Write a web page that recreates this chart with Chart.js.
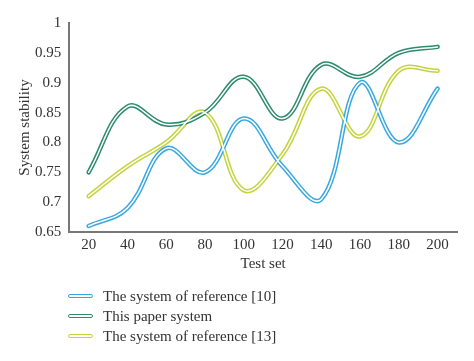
<!DOCTYPE html>
<html>
<head>
<meta charset="utf-8">
<script src="https://cdn.jsdelivr.net/npm/chart.js@4"></script>
<style>
  body { margin: 0; background: #fff; }
  #wrap { position: relative; width: 474px; height: 361px; }
  #legend { position: absolute; left: 68px; top: 286px; font-family: "Liberation Serif", serif; font-size: 15px; color: #333; }
  .item { height: 20px; line-height: 20px; display: flex; align-items: center; }
  .swatch { width: 23px; height: 2px; border-radius: 3px; margin-right: 10px; background: #fff; }
</style>
</head>
<body>
<div id="wrap">
  <canvas id="grafico" width="474" height="361"></canvas>
  <div id="legend"></div>
</div>
<script>
const testSet = ['20', '40', '60', '80', '100', '120', '140', '160', '180', '200'];
const ref10 = [0.66, 0.69, 0.79, 0.75, 0.84, 0.76, 0.705, 0.90, 0.80, 0.89];
const paper = [0.75, 0.86, 0.83, 0.85, 0.91, 0.84, 0.93, 0.91, 0.95, 0.96];
const ref13 = [0.71, 0.76, 0.80, 0.85, 0.72, 0.78, 0.89, 0.81, 0.92, 0.92];
const yTicks = [0.65, 0.7, 0.75, 0.8, 0.85, 0.9, 0.95, 1];

const series = [
    { label: 'The system of reference [10]', data: ref10, color: '#3aa8e0' },
    { label: 'This paper system', data: paper, color: '#2e8b6e' },
    { label: 'The system of reference [13]', data: ref13, color: '#c5d33d' },
];

// each line is drawn twice: thick coloured stroke, then a thin white one on top
let datasets = [];
series.forEach(s => {
    datasets.push({ label: s.label, data: s.data, borderColor: s.color, borderWidth: 4.5, tension: 0.4, pointRadius: 0, fill: false, borderCapStyle: 'round', order: 2 });
    datasets.push({ label: '', data: s.data, borderColor: '#ffffff', borderWidth: 1.5, tension: 0.4, pointRadius: 0, fill: false, borderCapStyle: 'round', order: 1 });
});

const fonte = { family: '"Liberation Serif", serif', size: 15 };

new Chart(document.getElementById('grafico'), {
    type: 'line',
    data: { labels: testSet, datasets: datasets },
    options: {
        responsive: false,
        animation: false,
        layout: { padding: { top: 23, right: 17, bottom: 88, left: 16 } },
        plugins: { legend: { display: false }, tooltip: { enabled: false } },
        scales: {
            x: {
                offset: true,
                grid: { display: false, drawTicks: false },
                border: { color: '#777', width: 2 },
                ticks: { color: '#333', font: fonte, padding: 4, maxRotation: 0 },
                title: { display: true, text: 'Test set', color: '#333', font: fonte, padding: { top: -3, bottom: 0 } }
            },
            y: {
                min: 0.65,
                max: 1,
                afterBuildTicks: axis => { axis.ticks = yTicks.map(v => ({ value: v })); },
                grid: { display: false, drawTicks: false },
                border: { color: '#777', width: 2 },
                ticks: { color: '#333', font: fonte, padding: 8, callback: v => String(Number(v.toFixed(2))) },
                title: { display: true, text: 'System stability', color: '#333', font: fonte, padding: { top: 0, bottom: -7 } }
            }
        }
    }
});

const legenda = document.getElementById('legend');
series.forEach(s => {
    const item = document.createElement('div');
    item.className = 'item';
    const sw = document.createElement('span');
    sw.className = 'swatch';
    sw.style.border = '1.5px solid ' + s.color;
    const txt = document.createElement('span');
    txt.textContent = s.label;
    item.appendChild(sw);
    item.appendChild(txt);
    legenda.appendChild(item);
});
</script>
</body>
</html>
